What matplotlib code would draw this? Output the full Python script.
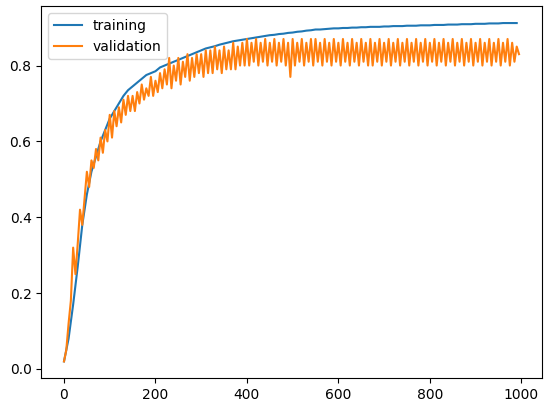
import numpy as np
import matplotlib
matplotlib.use("Agg")
import matplotlib.pyplot as plt

# training accuracy, read every 10 epochs (0..990)
train_acc = [
    0.02, 0.08, 0.17, 0.27, 0.38, 0.46, 0.52, 0.56, 0.60, 0.63,
    0.66, 0.68, 0.70, 0.72, 0.735, 0.745, 0.755, 0.765, 0.775, 0.78,
    0.785, 0.795, 0.80, 0.805, 0.81, 0.815, 0.82, 0.825, 0.83, 0.835,
    0.84, 0.845, 0.848, 0.851, 0.855, 0.858, 0.861, 0.864, 0.866, 0.868,
    0.870, 0.872, 0.874, 0.876, 0.878, 0.880, 0.881, 0.883, 0.884, 0.886,
    0.887, 0.889, 0.890, 0.892, 0.893, 0.895, 0.895, 0.896, 0.897, 0.898,
    0.898, 0.899, 0.899, 0.900, 0.900, 0.901, 0.901, 0.902, 0.902, 0.902,
    0.903, 0.903, 0.904, 0.904, 0.904, 0.905, 0.905, 0.905, 0.906, 0.906,
    0.906, 0.907, 0.907, 0.907, 0.908, 0.908, 0.908, 0.909, 0.909, 0.909,
    0.910, 0.910, 0.910, 0.911, 0.911, 0.911, 0.912, 0.912, 0.912, 0.912,
]
train_epochs = np.arange(0, 1000, 10)

# validation accuracy, read every 5 epochs (0..995)
val_acc = [
    0.02, 0.05, 0.12, 0.18, 0.32, 0.25, 0.33, 0.42, 0.38, 0.45,
    0.52, 0.48, 0.55, 0.53, 0.58, 0.55, 0.61, 0.57, 0.63, 0.60,
    0.67, 0.61, 0.68, 0.64, 0.69, 0.65, 0.71, 0.67, 0.72, 0.68,
    0.72, 0.68, 0.73, 0.70, 0.75, 0.71, 0.74, 0.72, 0.77, 0.72,
    0.76, 0.73, 0.78, 0.74, 0.79, 0.75, 0.82, 0.74, 0.80, 0.76,
    0.82, 0.75, 0.81, 0.77, 0.83, 0.76, 0.82, 0.77, 0.83, 0.78,
    0.83, 0.77, 0.84, 0.78, 0.84, 0.78, 0.85, 0.79, 0.84, 0.78,
    0.85, 0.79, 0.84, 0.79, 0.86, 0.79, 0.85, 0.80, 0.86, 0.80,
    0.87, 0.80, 0.86, 0.81, 0.87, 0.80, 0.86, 0.81, 0.87, 0.80,
    0.86, 0.81, 0.87, 0.80, 0.86, 0.81, 0.87, 0.80, 0.86, 0.77,
    0.87, 0.80, 0.86, 0.81, 0.87, 0.80, 0.86, 0.81, 0.87, 0.80,
    0.87, 0.81, 0.86, 0.80, 0.87, 0.81, 0.86, 0.80, 0.87, 0.81,
    0.86, 0.80, 0.87, 0.81, 0.86, 0.80, 0.87, 0.81, 0.86, 0.80,
    0.87, 0.81, 0.86, 0.80, 0.87, 0.80, 0.86, 0.81, 0.87, 0.80,
    0.86, 0.81, 0.87, 0.80, 0.86, 0.81, 0.87, 0.80, 0.86, 0.81,
    0.87, 0.80, 0.86, 0.81, 0.87, 0.80, 0.86, 0.81, 0.87, 0.80,
    0.86, 0.81, 0.87, 0.80, 0.86, 0.81, 0.87, 0.80, 0.86, 0.81,
    0.87, 0.80, 0.86, 0.81, 0.87, 0.80, 0.86, 0.81, 0.87, 0.80,
    0.86, 0.81, 0.87, 0.80, 0.86, 0.81, 0.87, 0.80, 0.86, 0.81,
    0.87, 0.80, 0.86, 0.81, 0.87, 0.80, 0.86, 0.81, 0.85, 0.83,
]
val_epochs = np.arange(0, 1000, 5)

fig, ax = plt.subplots(figsize=(5.5, 4.09), dpi=100)
ax.plot(train_epochs, train_acc, label="training")
ax.plot(val_epochs, val_acc, label="validation")
ax.legend(loc="upper left")
fig.subplots_adjust(left=0.075, right=0.985, bottom=0.075, top=0.985)
fig.savefig("out.png")
